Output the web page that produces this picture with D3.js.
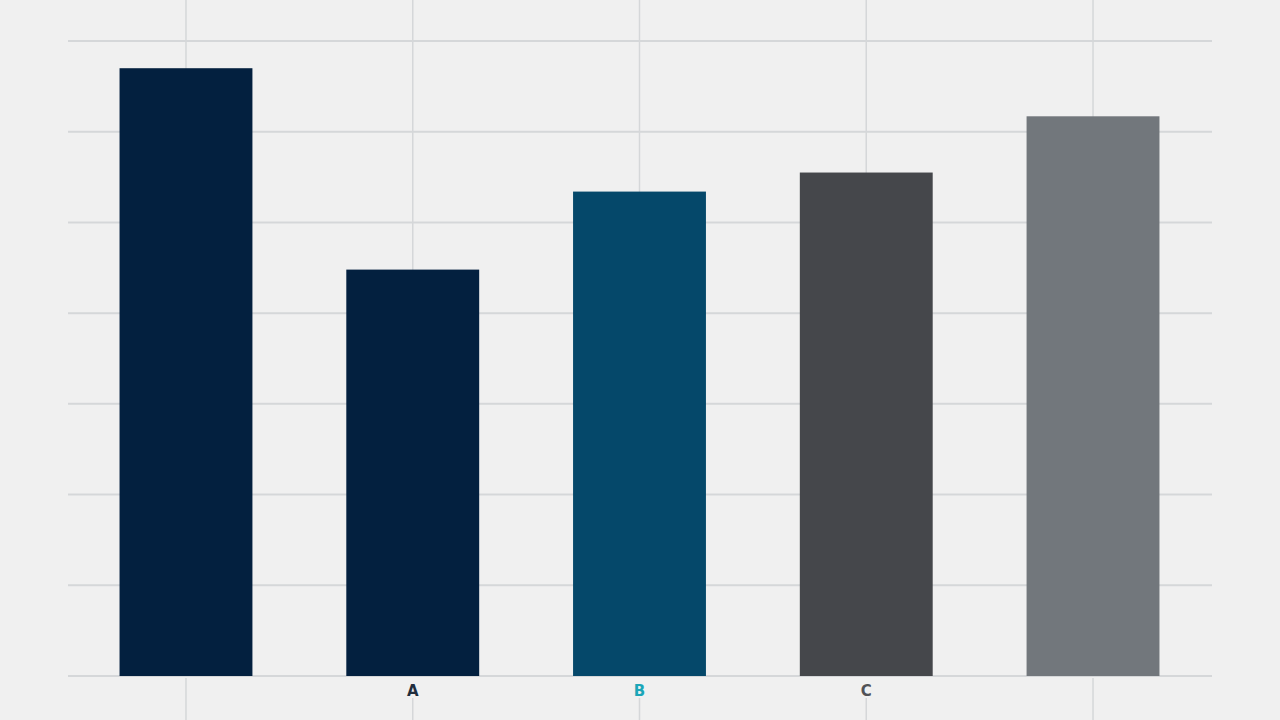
<!DOCTYPE html>
<html><head><meta charset="utf-8">
<script src="https://cdn.jsdelivr.net/npm/d3@7"></script>
<style>html,body{margin:0;padding:0;background:#f0f0f0;}svg{display:block;}</style>
</head><body>
<svg id="c" width="1280" height="720"></svg>
<script>
const categories = ["c1", "A", "B", "C", "c5"];
const tickLabels = ["", "A", "B", "C", ""];
const values = [6.70, 4.48, 5.34, 5.55, 6.17];
const barColors = ["#03203f", "#03203f", "#05486a", "#45474b", "#72777c"];
const labelColors = ["#1f2d3d", "#1f2d3d", "#1ba6b8", "#505256", "#505256"];
const yTicks = [0, 1, 2, 3, 4, 5, 6, 7];

const svg = d3.select("#c");
svg.append("rect").attr("width", 1280).attr("height", 720).attr("fill", "#f0f0f0");

const x = d3.scaleBand().domain(categories).range([72.6, 1206.4]).paddingInner(0.414).paddingOuter(0.207);
const y = d3.scaleLinear().domain([0, 7]).range([676, 41]);
const grid = "#d5d7d9";

// horizontal grid
svg.append("g").selectAll("line").data(yTicks).join("line")
  .attr("x1", 68).attr("x2", 1212)
  .attr("y1", d => y(d)).attr("y2", d => y(d))
  .attr("stroke", grid).attr("stroke-width", 2);

// vertical grid (above plot)
svg.append("g").selectAll("line").data(categories).join("line")
  .attr("x1", d => x(d) + x.bandwidth() / 2).attr("x2", d => x(d) + x.bandwidth() / 2)
  .attr("y1", 0).attr("y2", y(0))
  .attr("stroke", grid).attr("stroke-width", 1.5);

// bars
svg.append("g").selectAll("rect").data(categories).join("rect")
  .attr("x", d => x(d)).attr("width", x.bandwidth())
  .attr("y", (d, i) => y(values[i])).attr("height", (d, i) => y(0) - y(values[i]))
  .attr("fill", (d, i) => barColors[i]);

// ticks below baseline
svg.append("g").selectAll("line").data(categories).join("line")
  .attr("x1", d => x(d) + x.bandwidth() / 2).attr("x2", d => x(d) + x.bandwidth() / 2)
  .attr("y1", (d, i) => tickLabels[i] ? 698 : y(0) + 2).attr("y2", 720)
  .attr("stroke", grid).attr("stroke-width", 1.5);

// labels
svg.append("g").selectAll("text").data(categories).join("text")
  .attr("x", d => x(d) + x.bandwidth() / 2).attr("y", 696)
  .attr("text-anchor", "middle")
  .attr("font-family", "DejaVu Sans, sans-serif").attr("font-weight", "bold").attr("font-size", 15)
  .attr("fill", (d, i) => labelColors[i])
  .text((d, i) => tickLabels[i]);
</script>
</body></html>
